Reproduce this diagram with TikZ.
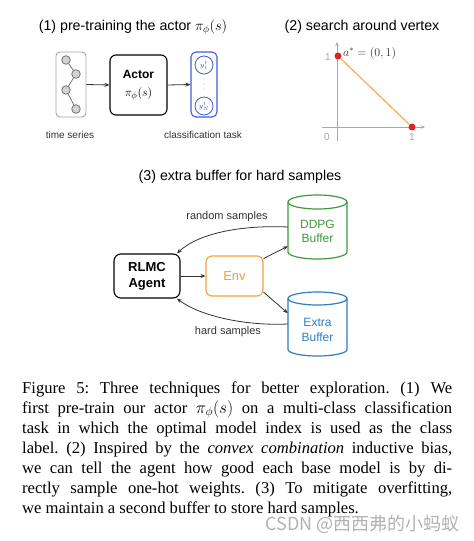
\documentclass[tikz,border=0pt]{standalone}
\usepackage{fontspec}
\setmainfont{Liberation Serif}
\newfontfamily\hv{Liberation Sans}
\newfontfamily\cjk{Noto Sans CJK SC}
\usetikzlibrary{arrows.meta}
\definecolor{cblue}{HTML}{3F5FD8}
\definecolor{cgreen}{HTML}{3D9A3D}
\definecolor{xblue}{HTML}{2F7FC1}
\definecolor{corange}{HTML}{F2A23A}
\definecolor{cred}{HTML}{E52222}
\definecolor{axgray}{HTML}{A8A8A8}
\definecolor{tgray}{HTML}{333333}
\frenchspacing
\begin{document}
\begin{tikzpicture}[x=1pt,y=-1pt,
  every node/.style={inner sep=0pt, font=\hv},
  arr/.style={-{Stealth[length=5pt,width=4pt]}, line width=0.8pt, draw=tgray},
  rbox/.style={draw, rounded corners=6pt, line width=1.1pt},
  title/.style={font=\hv\fontsize{14.2}{16}\selectfont},
  small/.style={font=\hv\fontsize{10}{12}\selectfont, text=tgray},
  tsdot/.style={circle, draw=gray!80!black, fill=gray!35, line width=0.7pt, minimum size=8.6pt},
  ydot/.style={circle, draw=cblue, line width=0.8pt, minimum size=18pt, text=cblue!80!black, font=\fontsize{7}{8}\selectfont},
  reddot/.style={circle, fill=cred, minimum size=7pt},
  axlab/.style={font=\hv\fontsize{10}{12}\selectfont, text=axgray},
  cylbox/.style={minimum width=59pt},
]
\useasboundingbox (0,0) rectangle (474,541);
\fill[white] (0,0) rectangle (474,541);

% ---------- (1) ----------
\node[title] (t1) at (133,27) {(1) pre-training the actor $\pi_\phi(s)$};
\node[rbox, draw=gray!70, rounded corners=4pt, line width=0.9pt, minimum width=30pt, minimum height=65pt] (ts) at (71,84.5) {};
\node[tsdot] (c1) at (66,60) {};
\node[tsdot] (c2) at (76,74) {};
\node[tsdot] (c3) at (66,90) {};
\node[tsdot] (c4) at (76,109) {};
\draw[gray!80!black, line width=0.7pt] (c1) -- (c2) -- (c3) -- (c4);
\node[rbox, minimum width=57pt, minimum height=60pt, align=center, font=\hv\bfseries\fontsize{12}{14}\selectfont] (actor) at (138.5,85) {Actor\\[4pt]\normalfont\fontsize{13}{15}\selectfont$\pi_\phi(s)$};
\node[rbox, draw=cblue, rounded corners=5pt, minimum width=26pt, minimum height=65pt] (cls) at (204,84.5) {};
\node[ydot] (y1) at (204,65) {$y_1^t$};
\node[ydot] (yn) at (204,106) {$y_N^t$};
\foreach \yy in {79,84,89} \fill[gray!50] (204,\yy) circle (0.7pt);
\draw[arr] (ts.east) -- (actor.west);
\draw[arr] (actor.east) -- (cls.west);
\node[small] (l1) at (70,135) {time series};
\node[small] (l2) at (203,135) {classification task};

% ---------- (2) ----------
\node[title] (t2) at (362,27) {(2) search around vertex};
\coordinate (vb) at (337,141);
\coordinate (vt) at (337,42);
\coordinate (hl) at (322,127);
\coordinate (hr) at (425,127);
\draw[axgray, line width=0.9pt, -{Stealth[length=4pt,width=3.5pt]}] (vb) -- (vt);
\draw[axgray, line width=0.9pt, -{Stealth[length=4pt,width=3.5pt]}] (hl) -- (hr);
\node[reddot] (p1) at (338,56) {};
\node[reddot] (p2) at (412,127) {};
\draw[corange, line width=1pt] (p1) -- (p2);
\node[axlab] (a1) at (328,57) {1};
\node[axlab] (a0) at (327,137) {0};
\node[axlab] (a2) at (412,137) {1};
\node[anchor=west, text=tgray, font=\fontsize{12}{14}\selectfont] (astar) at (343,53) {$a^* = (0,1)$};

% ---------- (3) ----------
\node[title] (t3) at (240,177) {(3) extra buffer for hard samples};
\node[rbox, rounded corners=7pt, minimum width=66pt, minimum height=44pt, align=center, font=\hv\bfseries\fontsize{13}{16}\selectfont] (agent) at (147,276) {RLMC\\Agent};
\node[rbox, draw=corange, rounded corners=6pt, minimum width=57pt, minimum height=40pt, text=corange, font=\hv\fontsize{13}{15}\selectfont] (env) at (234.5,276) {Env};

% DDPG cylinder
\node[cylbox, minimum height=64pt] (ddpg) at (317.5,227) {};
\draw[cgreen, line width=1.2pt] (317.5,202) ellipse [x radius=29.5pt, y radius=7pt];
\draw[cgreen, line width=1.2pt] (288,202) -- (288,252) arc[start angle=180, end angle=360, x radius=29.5pt, y radius=7pt] -- (347,202);
\node[align=center, text=cgreen, font=\hv\fontsize{12}{14.5}\selectfont] (ddpgt) at (317.5,231.5) {DDPG\\Buffer};

% Extra cylinder
\node[cylbox, minimum height=64pt] (extra) at (317.5,324) {};
\draw[xblue, line width=1.2pt] (317.5,298.5) ellipse [x radius=29.5pt, y radius=6.5pt];
\draw[xblue, line width=1.2pt] (288,298.5) -- (288,349.5) arc[start angle=180, end angle=360, x radius=29.5pt, y radius=6.5pt] -- (347,298.5);
\node[align=center, text=xblue, font=\hv\fontsize{12}{15}\selectfont] (extrat) at (317.5,329.5) {Extra\\Buffer};

\draw[arr] (agent.east) -- (env.west);
\draw[arr] (env.31) -- (ddpg.213);
\draw[arr] (env.-29) -- (extra.160);
\draw[arr] (ddpg.west) .. controls (245,225) and (200,232) .. (agent.37);
\draw[arr] (extra.west) .. controls (245,326) and (200,316) .. (agent.-37);
\node[font=\hv\fontsize{11}{13}\selectfont, text=tgray] (rs) at (227,217) {random samples};
\node[font=\hv\fontsize{11}{13}\selectfont, text=tgray] (hs) at (228,332) {hard samples};

% ---------- caption ----------
\node[anchor=base west, text width=430pt, align=justify, font=\rmfamily\fontsize{16.6}{20}\selectfont] (cap) at (22,393) {Figure 5: Three techniques for better exploration. (1) We\linebreak
first pre-train our actor $\pi_\phi(s)$ on a multi-class classification\linebreak
task in which the optimal model index is used as the class\linebreak
label. (2) Inspired by the \emph{convex combination} inductive bias,\linebreak
we can tell the agent how good each base model is by di-\linebreak
rectly sample one-hot weights. (3) To mitigate overfitting,\linebreak
we maintain a second buffer to store hard samples.};
\node[anchor=east, text=gray!60, font=\cjk\fontsize{18}{20}\selectfont] (wm) at (460,524) {CSDN @西西弗的小蚂蚁};
\end{tikzpicture}
\end{document}
